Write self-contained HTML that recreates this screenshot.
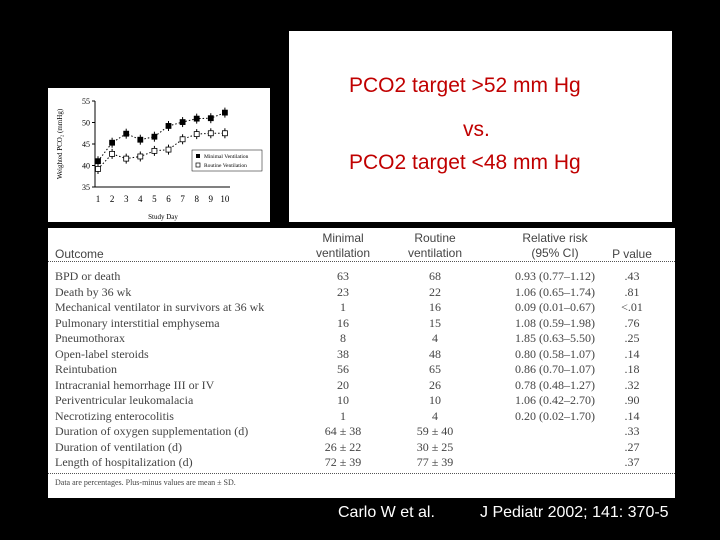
<!DOCTYPE html>
<html><head><meta charset="utf-8"><style>
body{margin:0;width:720px;height:540px;background:#000;position:relative;overflow:hidden;font-family:"Liberation Sans",sans-serif}
.abs{position:absolute}
.tb{font-family:"Liberation Serif",serif;color:#444;font-size:12px}
</style></head><body>
<div class="abs" style="left:48px;top:88px;width:222px;height:134px;background:#fff">
<svg id="chart" width="222" height="134"></svg>
</div>
<div class="abs" style="left:289px;top:31px;width:383px;height:191px;background:#fff;color:#c00000;font-size:21px">
<div class="abs" style="left:60px;top:43px">PCO2 target &gt;52 mm Hg</div>
<div class="abs" style="left:174px;top:87px">vs.</div>
<div class="abs" style="left:60px;top:120px">PCO2 target &lt;48 mm Hg</div>
</div>
<div class="abs tb" id="tbl" style="left:48px;top:228px;width:627px;height:270px;background:#fff"></div>
<div class="abs" style="left:338px;top:504px;color:#fff;font-size:16px">Carlo W et al.</div>
<div class="abs" style="left:480px;top:504px;color:#fff;font-size:16px">J Pediatr 2002; 141: 370-5</div>
<script>
const days=[1,2,3,4,5,6,7,8,9,10];
const minimal=[41,45.3,47.4,46,46.7,49.2,50.1,50.9,51,52.3];
const routine=[39.2,42.7,41.6,42.1,43.4,43.7,46.1,47.3,47.5,47.5];
const yTicks=[35,40,45,50,55];
const NS='http://www.w3.org/2000/svg';
const svg=document.getElementById('chart');
const X=d=>50+(d-1)*14.1;
const Y=v=>99-(v-35)*4.3;
function mk(t,a,p){const e=document.createElementNS(NS,t);for(const k in a)e.setAttribute(k,a[k]);(p||svg).appendChild(e);return e;}
let e=mk('line',{x1:47,y1:13,x2:47,y2:99,stroke:'#000'});


e=mk('line',{x1:47,y1:99,x2:182,y2:99,stroke:'#000'});


yTicks.forEach(v=>{const t=mk('text',{x:42,y:Y(v)+3,'font-size':8,'text-anchor':'end','font-family':'Liberation Serif'});t.textContent=v;


mk('line',{x1:44,y1:Y(v),x2:47,y2:Y(v),stroke:'#000'});});
days.forEach(d=>{const t=mk('text',{x:X(d),y:114,'font-size':9,'text-anchor':'middle','font-family':'Liberation Serif'});t.textContent=d;

});
let t=mk('text',{x:115,y:131,'font-size':7,'text-anchor':'middle','font-family':'Liberation Serif'});t.textContent='Study Day';


t=mk('text',{x:0,y:0,'font-size':7,'text-anchor':'middle','font-family':'Liberation Serif',transform:'translate(14,56) rotate(-90)'});t.textContent='Weighted PCO₂ (mmHg)';


function series(vals,fill,name){
 const p=mk('polyline',{points:vals.map((v,i)=>X(days[i])+','+Y(v)).join(' '),fill:'none',stroke:'#000','stroke-dasharray':'1.5,2'});
 
 
 vals.forEach((v,i)=>{mk('line',{x1:X(days[i]),y1:Y(v)-5,x2:X(days[i]),y2:Y(v)+5,stroke:'#000'});
 const r=mk('rect',{x:X(days[i])-2.5,y:Y(v)-2.5,width:5,height:5,fill:fill,stroke:'#000','stroke-width':0.8});
 
 });
}
series(minimal,'#000','minimal');
series(routine,'#fff','routine');
const lg=mk('rect',{x:144,y:62,width:70,height:21,fill:'#fff',stroke:'#000','stroke-width':0.5});


mk('rect',{x:148,y:66,width:4,height:4,fill:'#000'});
mk('rect',{x:148,y:75,width:4,height:4,fill:'#fff',stroke:'#000','stroke-width':0.7});
t=mk('text',{x:156,y:70,'font-size':5.5,'font-family':'Liberation Serif'});t.textContent='Minimal Ventilation';


t=mk('text',{x:156,y:79,'font-size':5.5,'font-family':'Liberation Serif'});t.textContent='Routine Ventilation';



const rows=[["BPD or death","63","68","0.93 (0.77–1.12)",".43"],["Death by 36 wk","23","22","1.06 (0.65–1.74)",".81"],["Mechanical ventilator in survivors at 36 wk","1","16","0.09 (0.01–0.67)","<.01"],["Pulmonary interstitial emphysema","16","15","1.08 (0.59–1.98)",".76"],["Pneumothorax","8","4","1.85 (0.63–5.50)",".25"],["Open-label steroids","38","48","0.80 (0.58–1.07)",".14"],["Reintubation","56","65","0.86 (0.70–1.07)",".18"],["Intracranial hemorrhage III or IV","20","26","0.78 (0.48–1.27)",".32"],["Periventricular leukomalacia","10","10","1.06 (0.42–2.70)",".90"],["Necrotizing enterocolitis","1","4","0.20 (0.02–1.70)",".14"],["Duration of oxygen supplementation (d)","64 ± 38","59 ± 40","",".33"],["Duration of ventilation (d)","26 ± 22","30 ± 25","",".27"],["Length of hospitalization (d)","72 ± 39","77 ± 39","",".37"]];
const tbl=document.getElementById('tbl');
const cx=[null,295,387,507,584];
function cell(txt,x,y,center,name,font){const d=document.createElement('div');d.className='abs';d.style.top=y+'px';d.style.whiteSpace='nowrap';
 if(center){d.style.left=(x-60)+'px';d.style.width='120px';d.style.textAlign='center';}else d.style.left=x+'px';
 if(font)d.style.fontFamily=font;d.textContent=txt;
 
 
 tbl.appendChild(d);return d;}
const sans='"Liberation Sans",sans-serif';
cell('Outcome',7,19,false,'header-outcome',sans);
cell('Minimal',cx[1],3,true,'header-minimal',sans);cell('ventilation',cx[1],18,true,'header-minimal',sans);
cell('Routine',cx[2],3,true,'header-routine',sans);cell('ventilation',cx[2],18,true,'header-routine',sans);
cell('Relative risk',cx[3],3,true,'header-rr',sans);cell('(95% CI)',cx[3],18,true,'header-rr',sans);
cell('P value',cx[4],19,true,'header-p',sans);
const hr=document.createElement('div');hr.className='abs';hr.style.cssText='left:0;top:33px;width:627px;border-top:1px dotted #555';tbl.appendChild(hr);
rows.forEach((r,i)=>{const y=41+i*15.5;cell(r[0],7,y,false,'row-label');for(let j=1;j<5;j++)cell(r[j],cx[j],y,true,'row-value');});
const hr2=document.createElement('div');hr2.className='abs';hr2.style.cssText='left:0;top:245px;width:627px;border-top:1px dotted #555';tbl.appendChild(hr2);
const fn=cell('Data are percentages. Plus-minus values are mean ± SD.',7,250,false,'table-footnote');fn.style.fontSize='8px';
</script>
</body></html>
